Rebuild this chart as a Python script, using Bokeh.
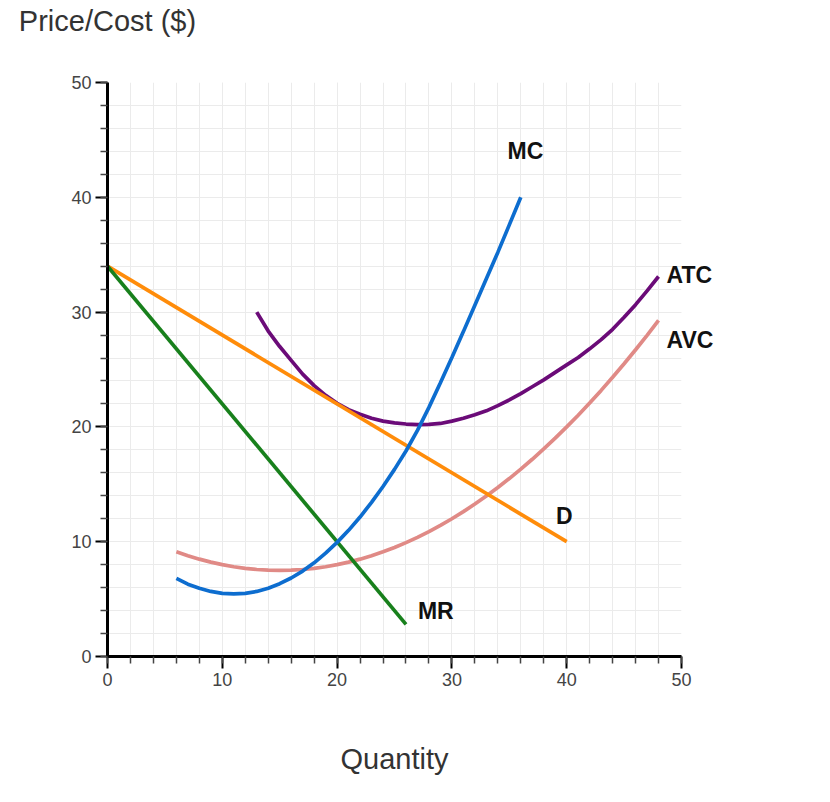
from bokeh.plotting import figure
from bokeh.models import Range1d, SingleIntervalTicker, FixedTicker, Label, LinearAxis
from bokeh.embed import file_html
from bokeh.resources import INLINE

# ---- data ----
d_x = [0, 40]
d_y = [34, 10]

mr_x = [0, 26]
mr_y = [34, 2.8]

mc_x = [6, 7, 8, 9, 10, 11, 12, 13, 14, 15, 16, 17, 18, 19, 20, 21,
        22, 23, 24, 25, 26, 27, 28, 29, 30, 31, 32, 33, 34, 35, 36]
mc_y = [6.8, 6.3, 5.95, 5.67, 5.5, 5.45, 5.5, 5.67, 5.95, 6.34, 6.84, 7.44, 8.16, 9.0, 9.94, 10.99,
        12.15, 13.43, 14.81, 16.3, 17.9, 19.7, 21.7, 23.85, 26.05, 28.3, 30.6, 32.9, 35.2, 37.6, 40.0]

atc_x = [13, 14, 15, 16, 17, 18, 19, 20, 21, 22, 23, 24, 25, 26, 27, 28, 29, 30,
         31, 32, 33, 34, 35, 36, 37, 38, 39, 40, 41, 42, 43, 44, 45, 46, 47, 48]
atc_y = [30.0, 28.35, 27.0, 25.8, 24.6, 23.6, 22.75, 22.05, 21.5, 21.1, 20.75, 20.5, 20.35, 20.25,
         20.2, 20.22, 20.3, 20.5, 20.75, 21.05, 21.4, 21.85, 22.35, 22.9, 23.5, 24.1, 24.75, 25.4,
         26.05, 26.8, 27.6, 28.5, 29.55, 30.65, 31.85, 33.1]

avc_x = [6, 7, 8, 9, 10, 11, 12, 13, 14, 15, 16, 17, 18, 19, 20, 21, 22, 23, 24, 25, 26, 27,
         28, 29, 30, 31, 32, 33, 34, 35, 36, 37, 38, 39, 40, 41, 42, 43, 44, 45, 46, 47, 48]
avc_y = [9.12, 8.78, 8.48, 8.22, 8.0, 7.82, 7.68, 7.58, 7.52, 7.5, 7.52, 7.58, 7.68, 7.82, 8.0,
         8.22, 8.48, 8.78, 9.12, 9.5, 9.92, 10.38, 10.88, 11.42, 12.0, 12.62, 13.28, 13.98, 14.72,
         15.5, 16.32, 17.18, 18.08, 19.02, 20.0, 21.02, 22.08, 23.18, 24.32, 25.5, 26.72, 27.98, 29.28]

# names of the curves that end inside the plot area
inner_names = ["MC", "D", "MR"]
inner_x = [36.4, 39.8, 28.6]
inner_y = [44.0, 12.2, 3.96]

# names of the curves that end at the right edge (drawn as right-hand axis labels)
edge_names = ["ATC", "AVC"]
edge_y = [33.2, 27.6]

x_title = "Quantity"
y_title = "Price/Cost ($)"

FONT = "Liberation Sans"

p = figure(width=830, height=802, output_backend="svg", toolbar_location=None,
           x_range=Range1d(0, 50), y_range=Range1d(0, 50),
           min_border_left=107, min_border_right=149,
           min_border_top=82, min_border_bottom=146)
p.outline_line_color = None
p.background_fill_color = "white"
p.border_fill_color = "white"
p.title.text = ""

for ax in (p.xaxis[0], p.yaxis[0]):
    ax.ticker = SingleIntervalTicker(interval=10, num_minor_ticks=5)
    ax.axis_line_color = "black"
    ax.axis_line_width = 3
    ax.major_tick_line_color = "black"
    ax.major_tick_line_width = 2
    ax.major_tick_out = 12
    ax.major_tick_in = 0
    ax.minor_tick_line_color = "#444444"
    ax.minor_tick_line_width = 1.5
    ax.minor_tick_out = 7
    ax.minor_tick_in = 0
    ax.major_label_text_font = FONT
    ax.major_label_text_font_size = "18px"
    ax.major_label_text_color = "#444444"
    ax.major_label_standoff = 4

p.xaxis.axis_label = x_title
p.xaxis.axis_label_text_font = FONT
p.xaxis.axis_label_text_font_size = "29px"
p.xaxis.axis_label_text_font_style = "normal"
p.xaxis.axis_label_text_color = "#333333"
p.xaxis.axis_label_standoff = 54

# price/cost heading above the y axis, as the single label of a top axis at x = 0
top_ax = LinearAxis(ticker=FixedTicker(ticks=[0]), major_label_overrides={0: y_title},
                    axis_line_color=None, major_tick_line_color=None,
                    minor_tick_line_color=None, major_tick_out=0, major_tick_in=0,
                    major_label_standoff=46, major_label_text_font=FONT,
                    major_label_text_font_size="29px", major_label_text_color="#333333")
p.add_layout(top_ax, "above")

# ATC / AVC names beside the curve ends on the right-hand side
right_ax = LinearAxis(ticker=FixedTicker(ticks=edge_y),
                      major_label_overrides=dict(zip(edge_y, edge_names)),
                      axis_line_color=None, major_tick_line_color=None,
                      minor_tick_line_color=None, major_tick_out=0, major_tick_in=0,
                      major_label_standoff=-15, major_label_text_font=FONT,
                      major_label_text_font_style="bold", major_label_text_font_size="23px",
                      major_label_text_color="#111111")
p.add_layout(right_ax, "right")

for g in (p.xgrid[0], p.ygrid[0]):
    g.ticker = SingleIntervalTicker(interval=10, num_minor_ticks=5)
    g.grid_line_color = "#ebebeb"
    g.grid_line_width = 1
    g.minor_grid_line_color = "#ebebeb"
    g.minor_grid_line_width = 1

lw = 3.7
p.line(avc_x, avc_y, line_color="#e08a86", line_width=lw)
p.line(atc_x, atc_y, line_color="#6b0b78", line_width=lw)
p.line(d_x, d_y, line_color="#ff8c0a", line_width=lw)
p.line(mr_x, mr_y, line_color="#18801c", line_width=lw)
p.line(mc_x, mc_y, line_color="#0d6dcf", line_width=lw)

for name, lx, ly in zip(inner_names, inner_x, inner_y):
    p.add_layout(Label(x=lx, y=ly, text=name, text_align="center", text_baseline="middle",
                       text_font=FONT, text_font_style="bold", text_font_size="23px",
                       text_color="#111111"))

open("out.html", "w").write(file_html(p, INLINE))
